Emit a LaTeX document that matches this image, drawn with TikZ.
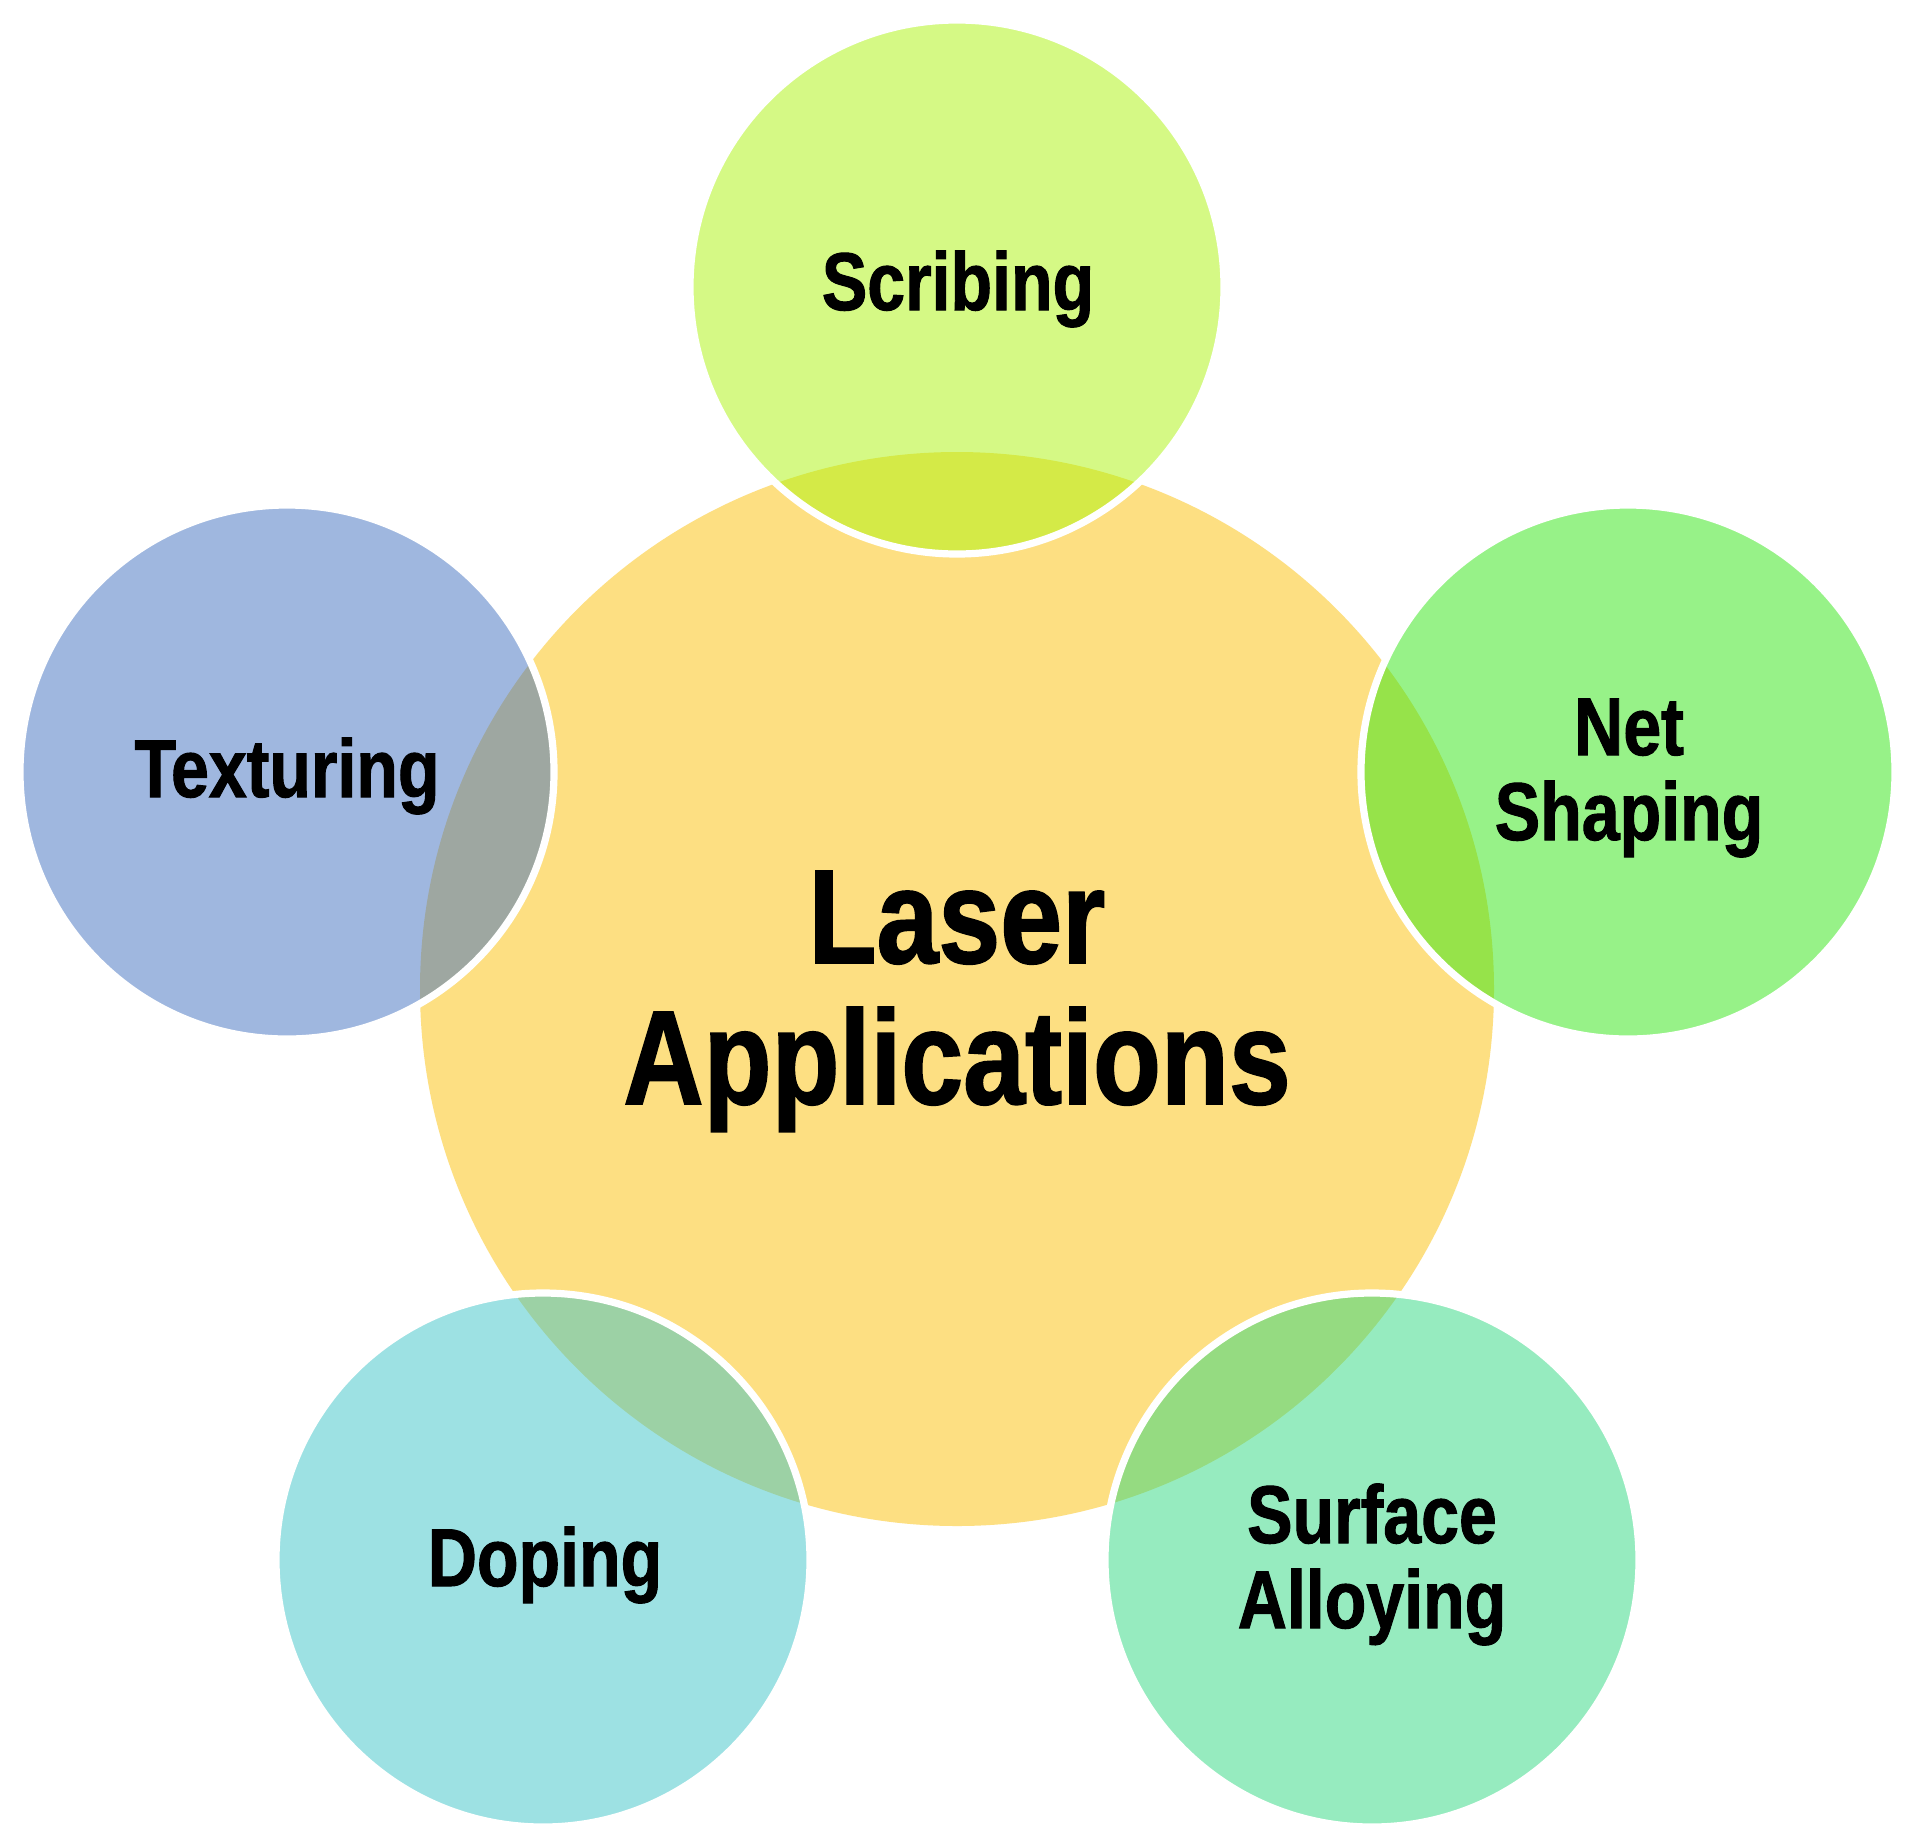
\documentclass[tikz,border=0pt]{standalone}
\usepackage{fontspec}
\setmainfont{Liberation Sans}
\newfontfamily\labfont{Liberation Sans}[FakeStretch=0.83,FakeBold=1.2]
\definecolor{mainyellow}{RGB}{253,223,130}
\definecolor{cscrib}{RGB}{173,245,13}
\definecolor{ctext}{RGB}{65,113,193}
\definecolor{cnet}{RGB}{49,231,19}
\definecolor{cdop}{RGB}{61,197,201}
\definecolor{csurf}{RGB}{47,217,129}
\newcommand{\twolines}[2]{\begin{tabular}[b]{@{}c@{}}#1\\#2\end{tabular}}
\tikzset{
  maincirc/.style={circle, fill=mainyellow, minimum size=537pt, inner sep=0pt},
  subcirc/.style={circle, fill=#1, fill opacity=0.5, draw=white, draw opacity=1,
                  line width=3.6pt, minimum size=267pt, inner sep=0pt},
  labtxt/.style={anchor=base, inner sep=0pt, text=black,
                 font=\labfont\bfseries\fontsize{41}{42.5}\selectfont},
  bigtxt/.style={anchor=base, inner sep=0pt, text=black,
                 font=\labfont\bfseries\fontsize{67}{70.5}\selectfont}
}
\begin{document}
\begin{tikzpicture}[x=0.5pt,y=-0.5pt]
\useasboundingbox (0,0) rectangle (1912,1843);
\fill[white] (0,0) rectangle (1912,1843);
\node[maincirc] (main) at (957,989) {};
\node[subcirc=cscrib] (scribing) at (957,287) {};
\node[subcirc=ctext] (texturing) at (287,772) {};
\node[subcirc=cnet] (netshaping) at (1628,772) {};
\node[subcirc=cdop] (doping) at (543,1560) {};
\node[subcirc=csurf] (surface) at (1372,1560) {};
\node[labtxt] (scribingtxt) at (958,310) {Scribing};
\node[labtxt] (texturingtxt) at (287,797) {Texturing};
\node[labtxt] (nettxt) at (1629,840) {\twolines{Net}{Shaping}};
\node[labtxt] (dopingtxt) at (545,1586) {Doping};
\node[labtxt] (surfacetxt) at (1372,1628) {\twolines{Surface}{Alloying}};
\node[bigtxt] (maintxt) at (957,1104) {\twolines{Laser}{Applications}};
\end{tikzpicture}
\end{document}
